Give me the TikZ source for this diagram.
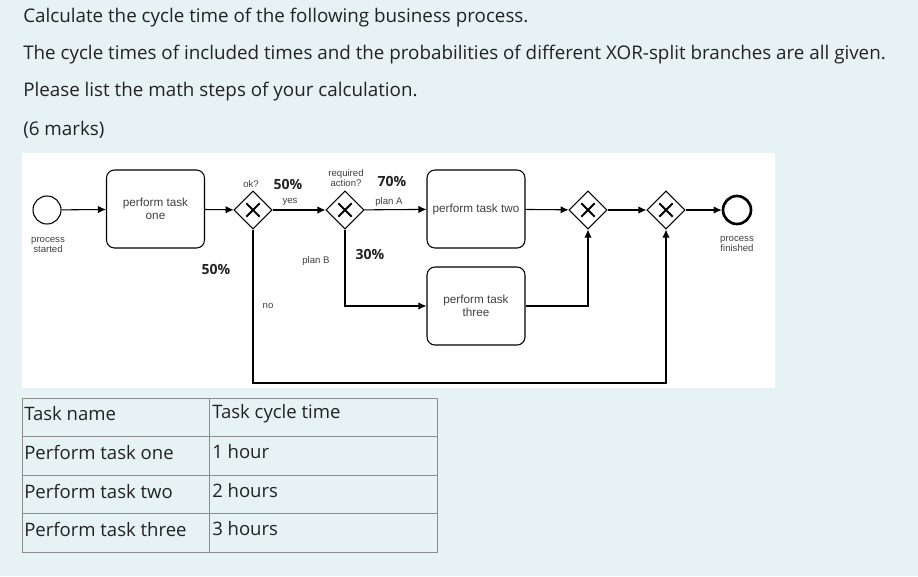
\documentclass[tikz,border=0pt]{standalone}
\usepackage{fontspec}
\setmainfont{Open Sans}
\newfontfamily\arialf{Liberation Sans}
\usetikzlibrary{shapes.geometric,arrows.meta}
\definecolor{bgc}{HTML}{E7F2F5}
\definecolor{txt}{HTML}{222222}
\begin{document}
\begin{tikzpicture}[x={(0.75pt,0)},y={(0,-0.75pt)},
  task/.style={draw,thick,rounded corners=6pt,minimum width=73.5pt,minimum height=58.5pt,align=center,font=\arialf\fontsize{8.8}{10}\selectfont,text=black!75,inner sep=1pt},
  gw/.style={draw,thick,diamond,minimum width=28.5pt,minimum height=28.5pt,inner sep=0pt,path picture={\draw[line width=1.5pt] ([shift={(-5pt,-5pt)}]path picture bounding box.center)--([shift={(5pt,5pt)}]path picture bounding box.center) ([shift={(-5pt,5pt)}]path picture bounding box.center)--([shift={(5pt,-5pt)}]path picture bounding box.center);}},
  ev/.style={draw,circle,minimum size=21pt,inner sep=0pt},
  flow/.style={thick,-{Latex[length=6pt,width=5.5pt]}},
  sm/.style={font=\arialf\fontsize{7.2}{7.6}\selectfont,text=black!75,align=center,inner sep=0pt},
  pct/.style={font=\bfseries\fontsize{10.5}{12}\selectfont,text=txt,inner sep=0pt},
  hd/.style={font=\fontsize{14.1}{16}\selectfont,text=txt,anchor=west,inner sep=0pt},
  cell/.style={font=\fontsize{13.9}{16}\selectfont,text=txt,anchor=west,inner sep=0pt}]
\fill[bgc] (0,0) rectangle (918,576);
\fill[white] (22,153) rectangle (775,388);
\node[hd] (l1) at (23,18) {Calculate the cycle time of the following business process.};
\node[hd] (l2) at (23,55) {The cycle times of included times and the probabilities of different XOR-split branches are all given.};
\node[hd] (l3) at (23,92) {Please list the math steps of your calculation.};
\node[hd] (l4) at (23,130) {(6 marks)};
% diagram
\node[ev,thick] (st) at (47,210) {};
\node[task] (t1) at (155.5,209) {perform task\\one};
\node[gw] (g1) at (253,210) {};
\node[gw] (g2) at (345,210) {};
\node[task] (t2) at (476,209) {perform task two};
\node[task] (t3) at (476,306) {perform task\\three};
\node[gw] (g3) at (588,210) {};
\node[gw] (g4) at (666,210) {};
\node[ev,line width=2pt] (en) at (737,210) {};
\coordinate (c1) at (253,383);
\coordinate (c2) at (666,383);
\coordinate (c3) at (345,306);
\coordinate (c4) at (588,306);
\draw[flow] (st)--(t1);
\draw[flow] (t1)--(g1);
\draw[flow] (g1)--(g2);
\draw[flow] (g2)--(t2);
\draw[flow] (t2)--(g3);
\draw[flow] (g3)--(g4);
\draw[flow] (g4)--(en);
\draw[flow] (g2.south)--(c3)--(t3);
\draw[flow] (t3)--(c4)--(g3.south);
\draw[flow] (g1.south)--(c1)--(c2)--(g4.south);
\node[sm] (lst) at (48,245) {process\\started};
\node[sm] (lfi) at (737,244) {process\\finished};
\node[sm] (lok) at (251,184) {ok?};
\node[pct] (p1) at (288,184) {50\%};
\node[sm] (lyes) at (290,202) {yes};
\node[sm] (lreq) at (346,178) {required\\action?};
\node[pct] (p2) at (392,181) {70\%};
\node[sm] (lpa) at (389,202) {plan A};
\node[sm] (lpb) at (316,261) {plan B};
\node[pct] (p3) at (370,254) {30\%};
\node[pct] (p4) at (216,269) {50\%};
\node[sm] (lno) at (268,306) {no};
% table
\draw[black!45,line width=0.6pt] (22,398) rectangle (437,552);
\foreach \yy in {436,475,513} \draw[black!45,line width=0.6pt] (22,\yy)--(437,\yy);
\draw[black!45,line width=0.6pt] (209,398)--(209,552);
\node[cell] (a1) at (24,414) {Task name};
\node[cell] (b1) at (212,414) {Task cycle time};
\node[cell] (a2) at (24,452) {Perform task one};
\node[cell] (b2) at (212,452) {1 hour};
\node[cell] (a3) at (24,491) {Perform task two};
\node[cell] (b3) at (212,491) {2 hours};
\node[cell] (a4) at (24,529) {Perform task three};
\node[cell] (b4) at (212,529) {3 hours};
\end{tikzpicture}
\end{document}
